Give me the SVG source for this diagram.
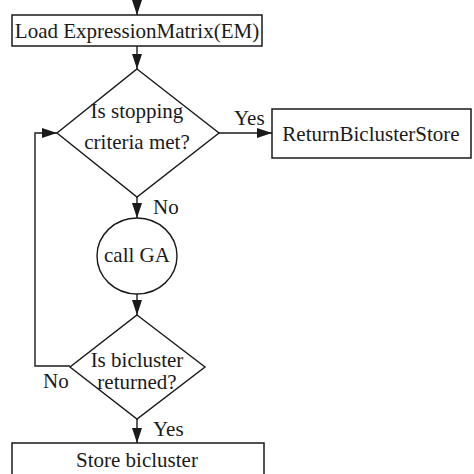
<svg xmlns="http://www.w3.org/2000/svg" width="474" height="474" viewBox="0 0 474 474">
<style>
.s{fill:none;stroke:#1a1a1a;stroke-width:1.4}
.b{fill:#fff;stroke:#1a1a1a;stroke-width:1.5}
text{font-family:"Liberation Serif","Times New Roman",serif;font-size:21px;fill:#1a1a1a}
.c{text-anchor:middle}
</style>
<defs>
<marker id="ah" viewBox="0 0 15 10" refX="15" refY="5" markerWidth="15" markerHeight="10" markerUnits="userSpaceOnUse" orient="auto">
<path d="M0,0 L15,5 L0,10 Z" fill="#1a1a1a"/>
</marker>
</defs>
<rect width="474" height="474" fill="#fff"/>
<g id="connectors">
<line class="s" x1="137" y1="0" x2="137" y2="15" marker-end="url(#ah)"/>
<line class="s" x1="137" y1="46" x2="137" y2="69" marker-end="url(#ah)"/>
<line class="s" x1="219" y1="133" x2="272" y2="133" marker-end="url(#ah)"/>
<line class="s" x1="137" y1="197" x2="137" y2="218" marker-end="url(#ah)"/>
<line class="s" x1="137" y1="294" x2="137" y2="315" marker-end="url(#ah)"/>
<polyline class="s" points="70,366 35,366 35,133 57,133" marker-end="url(#ah)"/>
<line class="s" x1="137" y1="419" x2="137" y2="443" marker-end="url(#ah)"/>
<text x="234" y="125">Yes</text>
<text x="153" y="214">No</text>
<text x="43" y="388">No</text>
<text x="153" y="436">Yes</text>
</g>
<g id="load">
<rect class="b" x="12" y="15" width="250" height="31"/>
<text class="c" x="137" y="38">Load ExpressionMatrix(EM)</text>
</g>
<g id="stop">
<polygon class="s" points="137,69 219,133 137,197 57,133"/>
<text class="c" x="137" y="118">Is stopping</text>
<text class="c" x="137" y="149">criteria met?</text>
</g>
<g id="return">
<rect class="b" x="272" y="109" width="199" height="49"/>
<text class="c" x="371" y="141">ReturnBiclusterStore</text>
</g>
<g id="ga">
<ellipse class="s" cx="137" cy="256" rx="40" ry="38"/>
<text class="c" x="137" y="262">call GA</text>
</g>
<g id="returned">
<polygon class="s" points="137,315 205,367 137,419 70,367"/>
<text class="c" x="137" y="367">Is bicluster</text>
<text class="c" x="137" y="389">returned?</text>
</g>
<g id="store">
<rect class="b" x="12" y="443" width="252" height="40"/>
<text class="c" x="137" y="467">Store bicluster</text>
</g>
</svg>
